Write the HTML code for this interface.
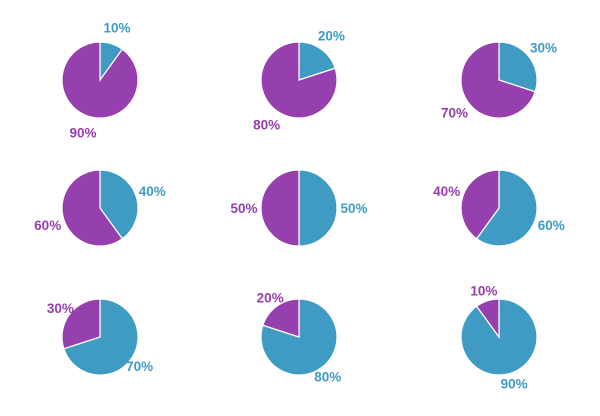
<!DOCTYPE html>
<html><head><meta charset="utf-8"><style>
html,body{margin:0;padding:0;background:#fff;}
svg{display:block;}
text{font-family:"Liberation Sans",sans-serif;font-weight:bold;font-size:13.5px;}
</style></head><body>
<svg id="chart" width="600" height="416"></svg>
<script>
const blueValues=[10,20,30,40,50,60,70,80,90];
const purpleValues=[90,80,70,60,50,40,30,20,10];
const blueFirst=[true,true,true,true,true,false,false,false,false];
const blueLabels=["10%","20%","30%","40%","50%","60%","70%","80%","90%"];
const purpleLabels=["90%","80%","70%","60%","50%","40%","30%","20%","10%"];
const BLUE="#3f9bc4",PURPLE="#963fae";
const svg=document.getElementById('chart');
const NS="http://www.w3.org/2000/svg";
const cols=[100,299,499],rows=[80,208,337],R=38,rowLR=[55,55,49];
function pt(cx,cy,r,deg){const a=deg*Math.PI/180;return [cx+r*Math.sin(a),cy-r*Math.cos(a)];}
function slice(cx,cy,a0,a1,color,name){
  const p=document.createElementNS(NS,'path');
  const [x0,y0]=pt(cx,cy,R,a0),[x1,y1]=pt(cx,cy,R,a1);
  const large=(a1-a0)>180?1:0;
  p.setAttribute('d',`M${cx},${cy}L${x0},${y0}A${R},${R} 0 ${large} 1 ${x1},${y1}Z`);
  p.setAttribute('fill',color);p.setAttribute('stroke','#fff');p.setAttribute('stroke-width','1.2');
  
  
  svg.appendChild(p);
}
function label(cx,cy,lr,mid,txt,color,name){
  const [x,y]=pt(cx,cy,lr,mid);
  const t=document.createElementNS(NS,'text');
  t.setAttribute('x',x);t.setAttribute('y',y+5);t.setAttribute('text-anchor','middle');t.setAttribute('fill',color);
  t.textContent=txt;
  
  
  svg.appendChild(t);
}
for(let i=0;i<9;i++){
  const row=Math.floor(i/3);
  const cx=cols[i%3],cy=rows[row];
  const b=blueValues[i]/(blueValues[i]+purpleValues[i])*360;
  let b0,b1,p0,p1;
  if(blueFirst[i]){b0=0;b1=b;p0=b;p1=360;}
  else{p0=-(360-b);p1=0;b0=0;b1=b;}
  slice(cx,cy,b0,b1,BLUE,'pie-'+(i+1)+'-blue-slice');
  slice(cx,cy,p0,p1,PURPLE,'pie-'+(i+1)+'-purple-slice');
  label(cx,cy,rowLR[row],(b0+b1)/2,blueLabels[i],BLUE,'pie-'+(i+1)+'-blue-label');
  label(cx,cy,rowLR[row],(p0+p1)/2,purpleLabels[i],PURPLE,'pie-'+(i+1)+'-purple-label');
}
</script>
</body></html>
